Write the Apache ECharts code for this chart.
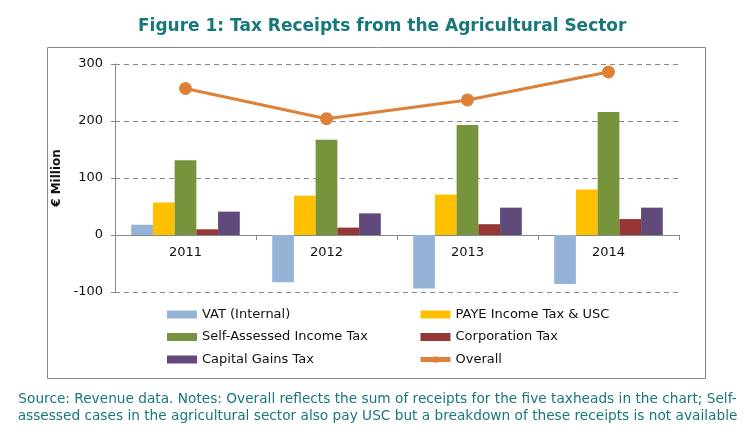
<!DOCTYPE html>
<html lang="en">
<head>
    <meta charset="UTF-8">
    <title>Tax Receipts from the Agricultural Sector</title>
    <script src="https://cdn.jsdelivr.net/npm/echarts@6/dist/echarts.min.js"></script>
    <style>
        html, body { margin: 0; padding: 0; background: #fff; }
    </style>
</head>
<body>
    <div id="main" style="width: 755px;height:441px;"></div>
    <script>
        // values, EUR million
        const years = ['2011', '2012', '2013', '2014'];
        const vat = [18, -83, -94, -86];
        const paye = [57, 69, 71, 80];
        const selfAssessed = [131, 167, 193, 216];
        const corporation = [10, 13, 19, 28];
        const capitalGains = [41, 38, 48, 48];
        const overall = [257, 204, 237, 286];

        const yTicks = { min: -100, max: 300, interval: 100 };

        const teal = '#17787B';
        const orange = '#DD8139';
        const font = 'DejaVu Sans';

        var chart = echarts.init(document.getElementById('main'));

        function bar(name, data, color) {
            return {
                name: name,
                type: 'bar',
                data: data,
                barGap: 0,
                barCategoryGap: '23%',
                itemStyle: { color: color },
                z: 2
            };
        }

        var legendBase = {
            orient: 'vertical',
            top: 308,
            padding: 0,
            itemWidth: 30,
            itemHeight: 8,
            itemGap: 9.5,
            textStyle: { fontSize: 13, color: '#111', fontFamily: font }
        };

        var option = {
            animation: false,
            textStyle: { fontFamily: font },
            title: {
                text: 'Figure 1: Tax Receipts from the Agricultural Sector',
                left: 138,
                top: 18,
                padding: 0,
                textStyle: { fontFamily: font, fontSize: 17, fontWeight: 'bold', color: teal }
            },
            grid: { left: 115, right: 76, top: 64, bottom: 149 },
            xAxis: {
                type: 'category',
                data: years,
                offset: -57,
                axisLine: { onZero: false, lineStyle: { color: '#888', width: 1 } },
                axisTick: { show: true, length: 5, lineStyle: { color: '#888' } },
                axisLabel: { color: '#111', fontSize: 13, margin: 11 }
            },
            yAxis: {
                type: 'value',
                min: yTicks.min,
                max: yTicks.max,
                interval: yTicks.interval,
                name: '€ Million',
                nameLocation: 'middle',
                nameGap: 48,
                nameTextStyle: { color: '#111', fontSize: 12, fontWeight: 'bold' },
                axisLine: { show: true, onZero: false, lineStyle: { color: '#888' } },
                axisTick: { show: true, length: 4, lineStyle: { color: '#888' } },
                axisLabel: { color: '#111', fontSize: 13, margin: 12 },
                splitLine: { lineStyle: { color: '#888', type: [5, 4] } }
            },
            legend: [
                Object.assign({}, legendBase, {
                    left: 167,
                    data: [
                        { name: 'VAT (Internal)', icon: 'rect' },
                        { name: 'Self-Assessed Income Tax', icon: 'rect' },
                        { name: 'Capital Gains Tax', icon: 'rect' }
                    ]
                }),
                Object.assign({}, legendBase, {
                    left: 418,
                    data: [
                        { name: 'PAYE Income Tax & USC', icon: 'rect' },
                        { name: 'Corporation Tax', icon: 'rect' },
                        { name: 'Overall', lineStyle: { width: 5, color: orange } }
                    ]
                })
            ],
            graphic: [{
                type: 'rect',
                shape: { x: 47.5, y: 47.5, width: 658, height: 331 },
                style: { fill: 'none', stroke: '#888', lineWidth: 1 },
                silent: true
            }, {
                type: 'text',
                left: 'center',
                top: 391,
                style: {
                    text: 'Source: Revenue data. Notes: Overall reflects the sum of receipts for the five taxheads in the chart; Self-\nassessed cases in the agricultural sector also pay USC but a breakdown of these receipts is not available',
                    fill: teal,
                    font: '13.7px "DejaVu Sans"',
                    textAlign: 'center',
                    lineHeight: 17
                }
            }],
            series: [
                bar('VAT (Internal)', vat, '#95B3D7'),
                bar('PAYE Income Tax & USC', paye, '#FFC000'),
                bar('Self-Assessed Income Tax', selfAssessed, '#77933C'),
                bar('Corporation Tax', corporation, '#953735'),
                bar('Capital Gains Tax', capitalGains, '#604A7B'),
                {
                    name: 'Overall',
                    type: 'line',
                    data: overall,
                    symbol: 'circle',
                    symbolSize: 13,
                    lineStyle: { color: orange, width: 3 },
                    itemStyle: { color: orange },
                    z: 5
                }
            ]
        };

        chart.setOption(option);
    </script>
</body>
</html>
